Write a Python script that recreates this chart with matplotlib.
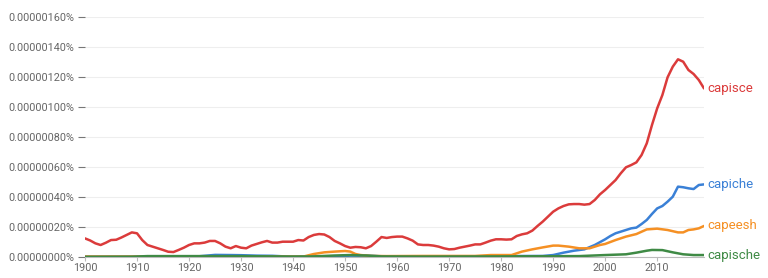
import numpy as np
import matplotlib.pyplot as plt

# values in units of 1e-8 %  (i.e. 20 -> 0.00000020%)
years_capisce = list(range(1900, 2020))
capisce = [12.4, 11.0, 9.1, 8.0, 9.5, 11.3, 11.5, 13.0, 14.7, 16.4,
           15.8, 11.3, 8.0, 6.9, 5.8, 4.7, 3.5, 3.3, 4.7, 6.2,
           8.0, 9.1, 9.1, 9.6, 10.7, 10.7, 9.1, 6.9, 5.8, 7.3,
           6.2, 5.8, 7.6, 8.7, 9.8, 10.7, 9.6, 9.6, 10.2, 10.2,
           10.2, 11.3, 11.0, 13.3, 14.7, 15.3, 15.0, 13.3, 10.7, 9.1,
           7.3, 6.2, 6.7, 6.5, 5.8, 7.3, 10.2, 13.3, 12.7, 13.3,
           13.6, 13.6, 12.4, 10.9, 8.4, 8.0, 8.0, 7.6, 6.9, 5.8,
           5.1, 5.3, 6.2, 6.9, 7.6, 8.4, 8.4, 9.6, 10.9, 11.8,
           11.8, 11.6, 11.8, 14.0, 15.1, 15.8, 17.6, 20.7, 23.6, 26.9,
           30.2, 32.4, 34.0, 35.1, 35.3, 35.3, 34.9, 35.3, 38.0, 41.8,
           44.7, 48.0, 51.3, 55.8, 59.8, 61.3, 63.1, 68.0, 75.8, 88.0,
           99.1, 108.0, 119.8, 126.9, 131.8, 130.2, 124.7, 122.0, 118.0, 112.4]

years_capiche = [1900, 1921, 1923, 1925, 1928, 1930, 1933, 1936, 1939, 1948, 1951, 1954, 1957,
                 1960, 1970, 1980, 1988, 1990, 1992, 1994, 1996, 1998, 2000, 2001, 2002,
                 2003, 2004, 2005, 2006, 2007, 2008, 2009, 2010, 2011, 2012, 2013, 2014,
                 2015, 2016, 2017, 2018, 2019]
capiche = [0.2, 0.2, 0.8, 1.4, 1.3, 1.2, 0.9, 0.8, 0.3, 0.3, 0.9, 0.9, 0.5,
           0.4, 0.4, 0.6, 0.7, 1.3, 2.9, 4.2, 5.1, 8.0, 11.8, 14.0, 15.8,
           16.9, 18.0, 19.1, 19.6, 22.0, 24.7, 28.7, 32.4, 34.0, 36.9, 40.2, 46.9,
           46.5, 45.8, 45.3, 48.0, 48.4]

years_capeesh = [1900, 1942, 1944, 1946, 1948, 1950, 1951, 1952, 1953, 1955, 1958,
                 1965, 1975, 1978, 1982, 1984, 1986, 1988, 1990, 1991, 1993, 1995,
                 1997, 1999, 2000, 2002, 2004, 2006, 2008, 2010, 2012, 2014, 2015,
                 2016, 2017, 2018, 2019]
capeesh = [0.3, 0.3, 2.0, 3.1, 3.6, 4.0, 3.6, 2.0, 1.3, 0.7, 0.6,
           0.7, 0.7, 1.3, 1.3, 3.6, 5.1, 6.4, 7.6, 7.6, 6.9, 5.8,
           5.8, 8.0, 8.7, 11.3, 13.6, 15.3, 18.4, 18.9, 18.0, 16.4, 16.4,
           18.0, 18.4, 19.1, 20.7]

years_capische = [1900, 1909, 1912, 1930, 1940, 1944, 1948, 1951, 1954, 1957, 1965,
                  1980, 1995, 2000, 2004, 2006, 2008, 2009, 2011, 2013, 2015, 2017, 2019]
capische = [0.1, 0.2, 0.6, 0.6, 0.3, 0.4, 1.0, 1.3, 1.0, 0.4, 0.3,
            0.4, 0.6, 1.3, 1.8, 2.9, 4.2, 4.7, 4.6, 3.1, 1.8, 1.3, 1.3]

series = [
    ('capisce', years_capisce, capisce, '#db3b3b'),
    ('capiche', years_capiche, capiche, '#3a80d6'),
    ('capeesh', years_capeesh, capeesh, '#f59024'),
    ('capische', years_capische, capische, '#3f8a45'),
]

plt.rcParams['font.family'] = ['Roboto', 'DejaVu Sans']

fig = plt.figure(figsize=(7.68, 2.78), dpi=100)
ax = fig.add_axes([85 / 768, 21 / 278, 619 / 768, 240 / 278])

for name, xs, ys, col in series:
    ax.plot(xs, ys, color=col, lw=1.8, solid_capstyle='round', zorder=3)
    ax.text(2019.6, ys[-1], name, color=col, fontsize=9.5, va='center', ha='left',
            clip_on=False)

ax.set_xlim(1900, 2019)
ax.set_ylim(0, 160)
yt = np.arange(0, 161, 20)
ax.set_yticks(yt)
ax.set_yticklabels(['0.%08d%%' % v for v in yt])
ax.set_xticks(np.arange(1900, 2011, 10))

ax.grid(axis='y', color='#eeeeee', lw=0.8, zorder=0)
for s in ['top', 'right', 'left']:
    ax.spines[s].set_visible(False)
ax.spines['bottom'].set_color('#bbbbbb')
ax.spines['bottom'].set_linewidth(0.8)
ax.tick_params(axis='y', length=5, width=0.8, color='#777777', labelsize=7.8,
               labelcolor='#666666', pad=3)
ax.tick_params(axis='x', length=3, width=0.8, color='#bbbbbb', labelsize=7.8,
               labelcolor='#666666', pad=1)

fig.savefig('out.png', dpi=100)
